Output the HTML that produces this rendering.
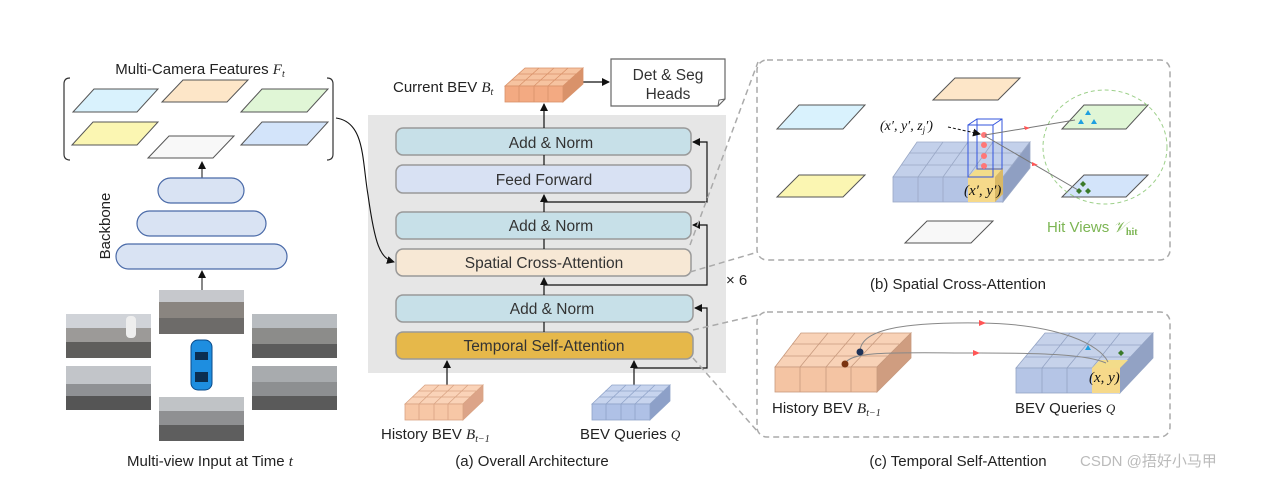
<!DOCTYPE html>
<html><head><meta charset="utf-8"><style>
html,body{margin:0;padding:0;background:#fff;}
svg{display:block;font-family:"Liberation Sans","DejaVu Sans",sans-serif;}
.t{font-size:15px;fill:#222;}
.bt{font-size:15.5px;fill:#333;text-anchor:middle;}
.m{font-family:"Liberation Serif",serif;font-style:italic;}
</style></head><body>
<svg width="1262" height="478" viewBox="0 0 1262 478" xmlns="http://www.w3.org/2000/svg">
<defs>
<marker id="a" markerWidth="8" markerHeight="8" refX="7" refY="4" orient="auto" markerUnits="userSpaceOnUse"><path d="M0,0 L8,4 L0,8 z" fill="#111"/></marker>
</defs>

<!-- LEFT -->
<text x="200" y="74" class="t" text-anchor="middle">Multi-Camera Features <tspan class="m">F<tspan font-size="10" dy="3">t</tspan></tspan></text>
<path d="M70,78 Q64,78 64,84 L64,154 Q64,160 70,160" fill="none" stroke="#333" stroke-width="1.2"/>
<path d="M327,78 Q333,78 333,84 L333,154 Q333,160 327,160" fill="none" stroke="#333" stroke-width="1.2"/>
<g stroke="#555" stroke-width="1">
<polygon points="73,112 94,89 158,89 137,112" fill="#d9f2fd"/>
<polygon points="162,102 183,80 248,80 227,102" fill="#fde6c8"/>
<polygon points="241,112 262,89 328,89 307,112" fill="#e0f6d6"/>
<polygon points="72,145 93,122 158,122 137,145" fill="#fbf6b2"/>
<polygon points="148,158 169,136 234,136 213,158" fill="#f8f8f8"/>
<polygon points="241,145 262,122 328,122 307,145" fill="#d3e4fa"/>
</g>
<line x1="202" y1="178" x2="202" y2="162" stroke="#111" marker-end="url(#a)"/>
<g fill="#d9e3f3" stroke="#4a6aa8" stroke-width="1.2">
<rect x="158" y="178" width="86" height="25" rx="12.5"/>
<rect x="137" y="211" width="129" height="25" rx="12.5"/>
<rect x="116" y="244" width="171" height="25" rx="12.5"/>
</g>
<text x="110" y="226" class="t" text-anchor="middle" transform="rotate(-90 110 226)">Backbone</text>
<line x1="202" y1="290" x2="202" y2="271" stroke="#111" marker-end="url(#a)"/>
<g>
<rect x="159" y="290" width="85" height="44" fill="#8a8580"/><rect x="159" y="318" width="85" height="16" fill="#6d6b69"/><rect x="159" y="290" width="85" height="12" fill="#c6c8cc"/>
<rect x="66" y="314" width="85" height="44" fill="#9c9a98"/><rect x="66" y="314" width="85" height="14" fill="#d0d3d8"/><rect x="66" y="342" width="85" height="16" fill="#5f5e5c"/><rect x="126" y="316" width="10" height="22" rx="4" fill="#eee"/>
<rect x="252" y="314" width="85" height="44" fill="#8c8c8a"/><rect x="252" y="314" width="85" height="14" fill="#b8bcc0"/><rect x="252" y="344" width="85" height="14" fill="#5c5c5c"/>
<rect x="66" y="366" width="85" height="44" fill="#8f9194"/><rect x="66" y="366" width="85" height="18" fill="#c2c5c9"/><rect x="66" y="396" width="85" height="14" fill="#555"/>
<rect x="252" y="366" width="85" height="44" fill="#8d8f91"/><rect x="252" y="366" width="85" height="16" fill="#a8abae"/><rect x="252" y="396" width="85" height="14" fill="#5a5a5a"/>
<rect x="159" y="397" width="85" height="44" fill="#8f9092"/><rect x="159" y="397" width="85" height="14" fill="#c0c3c6"/><rect x="159" y="425" width="85" height="16" fill="#5e5e5e"/>
<rect x="191" y="340" width="21" height="50" rx="7" fill="#1e8ee0" stroke="#0a4a88"/><rect x="195" y="352" width="13" height="8" fill="#0b2e50"/><rect x="195" y="372" width="13" height="10" fill="#0b2e50"/>
</g>
<text x="210" y="466" class="t" text-anchor="middle" fill="#333">Multi-view Input at Time <tspan class="m">t</tspan></text>

<!-- MIDDLE -->
<rect x="368" y="115" width="358" height="258" fill="#e6e6e6"/>
<path d="M336,118 C365,122 362,160 368,195 C375,245 380,258 394,262" fill="none" stroke="#111" stroke-width="1.1" marker-end="url(#a)"/>
<g stroke="#999" stroke-width="1.5">
<rect x="396" y="128" width="295" height="27" rx="7" fill="#c7e0e8"/>
<rect x="396" y="165" width="295" height="28" rx="7" fill="#d8e1f3"/>
<rect x="396" y="212" width="295" height="27" rx="7" fill="#c7e0e8"/>
<rect x="396" y="249" width="295" height="27" rx="7" fill="#f7e8d5"/>
<rect x="396" y="295" width="297" height="27" rx="7" fill="#c7e0e8"/>
<rect x="396" y="332" width="297" height="27" rx="7" fill="#e6b84a"/>
</g>
<text x="551" y="148" class="bt">Add &amp; Norm</text>
<text x="544" y="185" class="bt">Feed Forward</text>
<text x="551" y="231" class="bt">Add &amp; Norm</text>
<text x="544" y="268" class="bt">Spatial Cross-Attention</text>
<text x="552" y="314" class="bt">Add &amp; Norm</text>
<text x="544" y="351" class="bt">Temporal Self-Attention</text>
<g stroke="#111" stroke-width="1.2" fill="none">
<line x1="544" y1="155" x2="544" y2="165"/><line x1="544" y1="239" x2="544" y2="249"/><line x1="544" y1="322" x2="544" y2="332"/>
<line x1="544" y1="212" x2="544" y2="195" marker-end="url(#a)"/>
<line x1="544" y1="295" x2="544" y2="278" marker-end="url(#a)"/>
<line x1="544" y1="128" x2="544" y2="104" marker-end="url(#a)"/>
<polyline points="544,202 707,202 707,142 693,142" marker-end="url(#a)"/>
<polyline points="544,285 707,285 707,225 693,225" marker-end="url(#a)"/>
<polyline points="634,368 707,368 707,308 695,308" marker-end="url(#a)"/>
<line x1="447" y1="385" x2="447" y2="361" marker-end="url(#a)"/>
<line x1="634" y1="385" x2="634" y2="361" marker-end="url(#a)"/>
<line x1="583" y1="82" x2="609" y2="82" marker-end="url(#a)"/>
</g>
<text x="726" y="285" class="t">× 6</text>
<g stroke="#d9926a" stroke-width="0.8">
<polygon points="505,86 525,68 583,68 563,86" fill="#f6c3a0"/>
<polygon points="563,86 583,68 583,84 563,102" fill="#d9926a"/>
<rect x="505" y="86" width="58" height="16" fill="#f3aa82"/>
<line x1="519" y1="86" x2="519" y2="102"/><line x1="534" y1="86" x2="534" y2="102"/><line x1="548" y1="86" x2="548" y2="102"/>
<line x1="512" y1="80" x2="570" y2="80"/><line x1="518" y1="74" x2="576" y2="74"/>
<line x1="519" y1="86" x2="539" y2="68"/><line x1="534" y1="86" x2="554" y2="68"/><line x1="548" y1="86" x2="568" y2="68"/>
</g>
<text x="393" y="92" class="t">Current BEV <tspan class="m">B<tspan font-size="10" dy="3">t</tspan></tspan></text>
<path d="M611,59 L725,59 L725,99 L718,106 L611,106 Z" fill="#fff" stroke="#666" stroke-width="1.2"/>
<path d="M718,106 L719,100 L725,99" fill="none" stroke="#666"/>
<text x="668" y="80" class="bt" fill="#111">Det &amp; Seg</text>
<text x="668" y="99" class="bt" fill="#111">Heads</text>
<g stroke="#d9a383" stroke-width="0.8">
<polygon points="405,404 425,385 483,385 463,404" fill="#fad3b8"/>
<polygon points="463,404 483,385 483,401 463,420" fill="#dca488"/>
<rect x="405" y="404" width="58" height="16" fill="#f7c7a6"/>
<line x1="419" y1="404" x2="419" y2="420"/><line x1="434" y1="404" x2="434" y2="420"/><line x1="448" y1="404" x2="448" y2="420"/>
<line x1="412" y1="397" x2="470" y2="397"/><line x1="418" y1="391" x2="476" y2="391"/>
<line x1="419" y1="404" x2="439" y2="385"/><line x1="434" y1="404" x2="454" y2="385"/><line x1="448" y1="404" x2="468" y2="385"/>
</g>
<g stroke="#8fa3c9" stroke-width="0.8">
<polygon points="592,404 612,385 670,385 650,404" fill="#c7d4ee"/>
<polygon points="650,404 670,385 670,401 650,420" fill="#8da0c8"/>
<rect x="592" y="404" width="58" height="16" fill="#afc1e6"/>
<line x1="606" y1="404" x2="606" y2="420"/><line x1="621" y1="404" x2="621" y2="420"/><line x1="635" y1="404" x2="635" y2="420"/>
<line x1="599" y1="397" x2="657" y2="397"/><line x1="605" y1="391" x2="663" y2="391"/>
<line x1="606" y1="404" x2="626" y2="385"/><line x1="621" y1="404" x2="641" y2="385"/><line x1="635" y1="404" x2="655" y2="385"/>
</g>
<text x="381" y="439" class="t">History BEV <tspan class="m">B<tspan font-size="10" dy="3">t−1</tspan></tspan></text>
<text x="580" y="439" class="t">BEV Queries <tspan class="m" font-size="13">Q</tspan></text>
<text x="532" y="466" class="t" text-anchor="middle">(a) Overall Architecture</text>

<g stroke="#aaa" stroke-width="1.5" stroke-dasharray="6,4" fill="none">
<line x1="690" y1="245" x2="758" y2="62"/><line x1="690" y1="272" x2="758" y2="252"/>
<line x1="693" y1="330" x2="758" y2="315"/><line x1="693" y1="358" x2="758" y2="432"/>
<rect x="757" y="60" width="413" height="200" rx="10"/>
<rect x="757" y="312" width="413" height="125" rx="10"/>
</g>

<!-- PANEL B -->
<g stroke="#555" stroke-width="1">
<polygon points="777,129 799,105 865,105 843,129" fill="#d9f2fd"/>
<polygon points="933,100 955,78 1020,78 998,100" fill="#fde6c8"/>
<polygon points="777,197 799,175 865,175 843,197" fill="#fbf6b2"/>
<polygon points="905,243 927,221 993,221 971,243" fill="#f8f8f8"/>
<polygon points="1062,129 1084,105 1148,105 1126,129" fill="#e0f6d6"/>
<polygon points="1062,197 1084,175 1148,175 1126,197" fill="#d3e4fa"/>
</g>
<ellipse cx="1105" cy="147" rx="62" ry="57" fill="none" stroke="#9dd08a" stroke-dasharray="4,3"/>
<g stroke="#9aa8c6" stroke-width="0.8">
<polygon points="893,177 917,142 1030,142 1003,177" fill="#c3d0ea"/>
<polygon points="1003,177 1030,142 1030,168 1003,202" fill="#8f9fc2"/>
<rect x="893" y="177" width="110" height="25" fill="#b4c4e5"/>
<line x1="918" y1="177" x2="918" y2="202"/><line x1="943" y1="177" x2="943" y2="202"/>
<line x1="901" y1="165" x2="1012" y2="165"/><line x1="909" y1="153" x2="1021" y2="153"/>
<line x1="918" y1="177" x2="943" y2="142"/><line x1="943" y1="177" x2="968" y2="142"/><line x1="968" y1="177" x2="993" y2="142"/>
</g>
<polygon points="968,177 977,168 1003,168 1003,177" fill="#f3dc8a"/>
<rect x="968" y="177" width="27" height="25" fill="#f6d98a"/>
<polygon points="995,177 1003,168 1003,194 995,202" fill="#d9b865"/>
<g stroke="#3355dd" fill="none" stroke-width="1">
<rect x="968" y="125" width="25" height="52"/><rect x="977" y="119" width="25" height="50"/>
<line x1="968" y1="125" x2="977" y2="119"/><line x1="993" y1="125" x2="1002" y2="119"/>
<line x1="977" y1="119" x2="977" y2="169" stroke-dasharray="3,2"/>
</g>
<g fill="#f77"><circle cx="984" cy="135" r="3"/><circle cx="984" cy="145" r="3"/><circle cx="984" cy="156" r="3"/><circle cx="984" cy="166" r="3"/></g>
<line x1="948" y1="127" x2="980" y2="134" stroke="#111" stroke-dasharray="3,2" marker-end="url(#a)"/>
<g stroke="#777" stroke-width="1" fill="none">
<line x1="1075" y1="120" x2="985" y2="135"/><line x1="1078" y1="190" x2="985" y2="136"/>
</g>
<path d="M1030,128 l-6,-2 l1,4z M1038,165 l-6,-3 l0,4z" fill="#f55"/>
<g fill="#1ea0e0"><path d="M1088,110 l3,5 h-6z M1081,119 l3,5 h-6z M1094,119 l3,5 h-6z"/></g>
<g fill="#3a7a2a"><path d="M1083,181 l3,3 l-3,3 l-3,-3z M1079,188 l3,3 l-3,3 l-3,-3z M1088,188 l3,3 l-3,3 l-3,-3z"/></g>
<text x="880" y="130" font-family="Liberation Serif,serif" font-style="italic" font-size="14" fill="#111">(x′, y′, z<tspan font-size="9" dy="3">j</tspan><tspan dy="-3">′)</tspan></text>
<text x="964" y="195" font-family="Liberation Serif,serif" font-style="italic" font-size="15" fill="#111">(x′, y′)</text>
<text x="1047" y="232" font-size="15" fill="#7cb553">Hit Views <tspan class="m">𝒱<tspan font-size="10" dy="3" font-style="normal" font-weight="bold">hit</tspan></tspan></text>
<text x="958" y="289" class="t" text-anchor="middle">(b) Spatial Cross-Attention</text>

<!-- PANEL C -->
<g stroke="#c89a7e" stroke-width="0.8">
<polygon points="775,367 801,333 911,333 877,367" fill="#f8d2b7"/>
<polygon points="877,367 911,333 911,358 877,392" fill="#cf9d80"/>
<rect x="775" y="367" width="102" height="25" fill="#f4c4a3"/>
<line x1="800" y1="367" x2="800" y2="392"/><line x1="826" y1="367" x2="826" y2="392"/><line x1="851" y1="367" x2="851" y2="392"/>
<line x1="784" y1="356" x2="888" y2="356"/><line x1="792" y1="344" x2="899" y2="344"/>
<line x1="800" y1="367" x2="828" y2="333"/><line x1="826" y1="367" x2="855" y2="333"/><line x1="851" y1="367" x2="883" y2="333"/>
</g>
<g stroke="#93a3c4" stroke-width="0.8">
<polygon points="1016,368 1045,333 1153,333 1120,368" fill="#c6d2ea"/>
<polygon points="1120,368 1153,333 1153,358 1120,393" fill="#92a2c4"/>
<rect x="1016" y="368" width="104" height="25" fill="#b5c5e6"/>
<line x1="1042" y1="368" x2="1042" y2="393"/><line x1="1067" y1="368" x2="1067" y2="393"/>
<line x1="1025" y1="357" x2="1131" y2="357"/><line x1="1035" y1="345" x2="1142" y2="345"/>
<line x1="1042" y1="368" x2="1070" y2="333"/><line x1="1067" y1="368" x2="1096" y2="333"/><line x1="1092" y1="368" x2="1120" y2="333"/>
</g>
<polygon points="1092,368 1100,360 1128,360 1120,368" fill="#f3dc8a"/>
<rect x="1092" y="368" width="28" height="25" fill="#f6d98a"/>
<g stroke="#888" stroke-width="1" fill="none">
<path d="M860,352 C860,330 900,322 980,323 C1060,324 1100,345 1108,362"/>
<path d="M845,364 C850,350 900,353 980,353 C1060,353 1090,356 1106,363"/>
</g>
<path d="M986,323 l-7,-3 l0,6z M980,353 l-7,-3 l0,6z" fill="#f55"/>
<circle cx="860" cy="352" r="3.5" fill="#1e3258"/><circle cx="845" cy="364" r="3.5" fill="#7a3310"/>
<path d="M1088,345 l3,5 h-6z" fill="#1ea0e0"/><path d="M1121,350 l3,3 l-3,3 l-3,-3z" fill="#3a7a2a"/>
<text x="1089" y="382" font-family="Liberation Serif,serif" font-style="italic" font-size="15" fill="#111">(x, y)</text>
<text x="772" y="413" class="t">History BEV <tspan class="m">B<tspan font-size="10" dy="3">t−1</tspan></tspan></text>
<text x="1015" y="413" class="t">BEV Queries <tspan class="m" font-size="13">Q</tspan></text>
<text x="958" y="466" class="t" text-anchor="middle">(c) Temporal Self-Attention</text>
<text x="1080" y="466" font-size="15" fill="#bbb" font-family="'Liberation Sans','Noto Sans CJK SC',sans-serif">CSDN @捂好小马甲</text>
</svg>
</body></html>
